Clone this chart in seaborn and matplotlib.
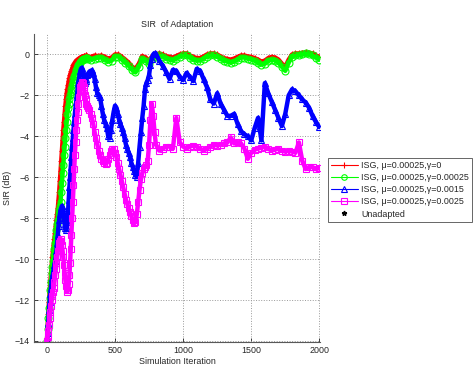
import matplotlib
matplotlib.use("Agg")
import matplotlib.pyplot as plt
from matplotlib.lines import Line2D
import seaborn as sns

# iteration grids (sample positions along the x axis)
iter_rise = list(range(0, 300, 5))
iter_tail = list(range(300, 2001, 25))
iter_mid = list(range(300, 800, 10))
iter_late = list(range(800, 2001, 25))

# ISG, mu=0.00025, gamma=0
sir_g0 = [-14.0, -13.3, -12.7, -12.1, -11.6, -11.1, -10.7, -10.3, -9.9, -9.6,
          -9.3, -9.0, -8.7, -8.4, -8.1, -7.8, -7.5, -7.1, -6.7, -6.2,
          -5.7, -5.2, -4.7, -4.2, -3.7, -3.3, -2.9, -2.5, -2.2, -1.9,
          -1.7, -1.5, -1.3, -1.15, -1.0, -0.9, -0.8, -0.7, -0.6, -0.5,
          -0.45, -0.4, -0.35, -0.3, -0.28, -0.25, -0.22, -0.2, -0.18, -0.15,
          -0.15, -0.12, -0.1, -0.1, -0.08, -0.08, -0.1, -0.05, -0.05, -0.08,
          -0.1, -0.12, -0.05, -0.08, -0.05,
          -0.12, -0.2, -0.15, 0.0, 0.0, -0.12, -0.25, -0.4,
          -0.6, -0.7, -0.45, -0.08, -0.15, -0.3, -0.08, 0.0,
          0.05, 0.0, -0.08, -0.12, -0.15, -0.08, 0.0, 0.05,
          0.05, -0.05, -0.12, -0.18, -0.18, -0.1, 0.0, 0.05,
          0.05, 0.0, -0.1, -0.18, -0.22, -0.25, -0.2, -0.12,
          -0.05, -0.05, -0.1, -0.12, -0.18, -0.25, -0.35, -0.3,
          -0.18, -0.12, -0.15, -0.25, -0.45, -0.6, -0.25, 0.0,
          0.05, 0.05, 0.08, 0.1, 0.08, 0.05, -0.05, -0.12]

# ISG, mu=0.00025, gamma=0.00025
sir_g1 = [-14.0, -13.4, -12.9, -12.4, -11.9, -11.5, -11.1, -10.7, -10.4, -10.1,
          -9.8, -9.5, -9.2, -8.9, -8.6, -8.3, -8.1, -7.8, -7.6, -7.4,
          -7.2, -6.7, -6.3, -5.8, -5.4, -4.9, -4.5, -4.1, -3.7, -3.3,
          -2.9, -2.6, -2.4, -2.2, -2.0, -1.85, -1.7, -1.5, -1.35, -1.2,
          -1.05, -0.95, -0.85, -0.75, -0.65, -0.57, -0.5, -0.45, -0.4, -0.35,
          -0.3, -0.28, -0.25, -0.22, -0.2, -0.2, -0.2, -0.18, -0.15, -0.18,
          -0.2, -0.25, -0.2, -0.15, -0.15,
          -0.25, -0.35, -0.3, -0.1, -0.1, -0.25, -0.4, -0.55,
          -0.75, -0.88, -0.6, -0.2, -0.3, -0.45, -0.2, -0.1,
          -0.05, -0.1, -0.2, -0.25, -0.3, -0.2, -0.1, -0.05,
          -0.05, -0.15, -0.25, -0.3, -0.3, -0.2, -0.1, -0.05,
          -0.05, -0.1, -0.2, -0.3, -0.35, -0.4, -0.35, -0.25,
          -0.15, -0.15, -0.2, -0.25, -0.3, -0.4, -0.5, -0.45,
          -0.3, -0.25, -0.3, -0.4, -0.6, -0.8, -0.4, -0.1,
          -0.05, -0.05, 0.0, 0.05, 0.0, -0.05, -0.15, -0.25]

# ISG, mu=0.00025, gamma=0.0015
sir_g2 = [-14.0, -13.6, -13.1, -12.5, -12.1, -11.7, -11.4, -11.1, -10.9, -10.7,
          -10.5, -10.3, -10.1, -9.9, -9.6, -9.2, -8.8, -8.4, -8.1, -7.8,
          -7.6, -7.5, -7.4, -7.5, -7.7, -8.0, -8.3, -8.5, -8.6, -8.5,
          -8.2, -7.7, -7.1, -6.5, -6.0, -5.5, -5.0, -4.5, -4.1, -3.7,
          -3.3, -2.9, -2.6, -2.3, -2.0, -1.7, -1.4, -1.2, -1.0, -0.8,
          -0.7, -0.65, -0.7, -0.9, -1.1, -1.3, -1.4, -1.3, -1.2, -1.0,
          -0.95, -0.85, -0.8, -0.78, -0.9, -1.2, -1.6, -1.9, -2.0, -2.1,
          -2.5, -2.9, -3.2, -3.4, -3.6, -4.0, -4.1, -3.7, -3.2, -2.8,
          -2.5, -2.6, -2.9, -3.2, -3.4, -3.6, -3.8, -4.1, -4.4, -4.6,
          -4.8, -5.0, -5.3, -5.5, -5.7, -5.9, -6.0, -5.3, -4.5, -3.8,
          -3.1, -2.5, -1.7, -1.4, -1.25, -1.0, -0.5, -0.2, 0.0, 0.05,
          0.0, -0.3, -0.55, -0.85, -1.2,
          -0.75, -0.8, -1.1, -1.25, -0.9, -1.1, -1.3, -0.7,
          -0.8, -1.2, -1.6, -2.2, -2.4, -1.9, -2.4, -2.7,
          -3.0, -3.0, -2.9, -3.4, -3.75, -3.9, -4.0, -4.2,
          -3.6, -3.1, -4.2, -1.4, -1.9, -2.3, -2.7, -3.1,
          -3.5, -2.9, -2.0, -1.7, -1.8, -2.0, -2.2, -2.35,
          -2.6, -3.0, -3.3, -3.55]

# ISG, mu=0.00025, gamma=0.0025
sir_g3 = [-14.0, -13.8, -13.5, -13.2, -12.9, -12.6, -12.3, -12.0, -11.8, -11.6,
          -11.4, -11.1, -10.8, -10.5, -10.2, -9.9, -9.6, -9.4, -9.2, -9.1,
          -9.0, -9.1, -9.3, -9.6, -9.9, -10.3, -10.7, -11.0, -11.3, -11.5,
          -11.6, -11.5, -11.2, -10.8, -10.2, -9.5, -8.8, -8.0, -7.2, -6.4,
          -5.6, -4.9, -4.3, -3.7, -3.2, -2.8, -2.4, -2.1, -1.8, -1.6,
          -1.5, -1.4, -1.35, -1.4, -1.6, -1.8, -2.0, -2.2, -2.4, -2.5,
          -2.6, -2.7, -2.9, -3.1, -3.4, -3.8, -4.1, -4.4, -4.7, -4.9,
          -5.1, -5.2, -5.3, -5.35, -5.3, -5.1, -4.9, -4.7, -4.6, -4.6,
          -4.8, -5.0, -5.3, -5.6, -5.9, -6.2, -6.5, -6.8, -7.1, -7.3,
          -7.5, -7.7, -7.9, -8.1, -8.25, -8.2, -7.8, -7.2, -6.6, -6.1,
          -5.8, -5.6, -5.5, -5.4, -5.2, -4.4, -3.2, -2.4, -3.0, -3.8,
          -4.4, -4.7, -4.6, -4.5, -4.5,
          -4.6, -3.1, -4.3, -4.5, -4.6, -4.5, -4.45, -4.5,
          -4.6, -4.7, -4.6, -4.5, -4.4, -4.45, -4.4, -4.35,
          -4.3, -4.05, -4.35, -4.3, -4.35, -4.6, -5.1, -4.8,
          -4.65, -4.6, -4.55, -4.5, -4.6, -4.7, -4.65, -4.6,
          -4.7, -4.75, -4.7, -4.75, -4.8, -4.3, -5.2, -5.6,
          -5.5, -5.5, -5.6, -5.55]

labels = ["ISG, \u03bc=0.00025,\u03b3=0",
          "ISG, \u03bc=0.00025,\u03b3=0.00025",
          "ISG, \u03bc=0.00025,\u03b3=0.0015",
          "ISG, \u03bc=0.00025,\u03b3=0.0025",
          "Unadapted"]
colors = ["#ff0000", "#00ff00", "#0000ff", "#ff00ff"]
markers = ["+", "o", "^", "s"]

sns.set_style("ticks")
plt.rcParams["font.family"] = ["Liberation Sans", "DejaVu Sans"]
plt.rcParams["font.size"] = 6.4

fig = plt.figure(figsize=(4.74, 3.67), dpi=100)
ax = fig.add_axes([34 / 474, 25 / 367, 286 / 474, 308 / 367])

series = [(iter_rise + iter_tail, sir_g0),
          (iter_rise + iter_tail, sir_g1),
          (iter_rise + iter_mid + iter_late, sir_g2),
          (iter_rise + iter_mid + iter_late, sir_g3)]

for (xs, ys), c, m in zip(series, colors, markers):
    sns.lineplot(x=xs, y=ys, ax=ax, color=c, marker=m, markersize=5,
                 markerfacecolor="none", markeredgecolor=c, markeredgewidth=0.8,
                 linewidth=3.2, legend=False, sort=False)

ax.set_xlim(-95, 2005)
ax.set_ylim(-14.05, 1)
ax.set_xticks([0, 500, 1000, 1500, 2000])
ax.set_yticks([0, -2, -4, -6, -8, -10, -12, -14])
ax.grid(True, linestyle=":", color="0.6", linewidth=0.7)
ax.set_axisbelow(True)
ax.tick_params(direction="in", length=3, width=0.6, colors="0.15",
               labelsize=6.4, pad=3)
for s in ["top", "right"]:
    ax.spines[s].set_visible(False)
for s in ["left", "bottom"]:
    ax.spines[s].set_color("0.35")
    ax.spines[s].set_linewidth(0.8)

ax.set_title("SIR  of Adaptation", fontsize=6.4, pad=5)
ax.set_xlabel("Simulation Iteration", fontsize=6.4, labelpad=1)
ax.set_ylabel("SIR (dB)", fontsize=6.4, labelpad=2)

handles = []
for c, m in zip(colors, markers):
    handles.append(Line2D([], [], color=c, marker=m, markersize=4,
                          markerfacecolor="none", markeredgecolor=c,
                          markeredgewidth=0.8, linewidth=0.8))
handles.append(Line2D([], [], color="k", marker="*", markersize=3.5,
                      linestyle="none"))
leg = ax.legend(handles, labels, loc="upper left",
                bbox_to_anchor=(328 / 474, 1 - 158 / 367),
                bbox_transform=fig.transFigure, fontsize=6.4, numpoints=1,
                handlelength=3.0, handletextpad=0.4, labelspacing=0.35,
                borderpad=0.35, borderaxespad=0, fancybox=False,
                framealpha=1)
leg.get_frame().set_edgecolor("0.3")
leg.get_frame().set_linewidth(0.6)

fig.savefig("out.png", dpi=100)
